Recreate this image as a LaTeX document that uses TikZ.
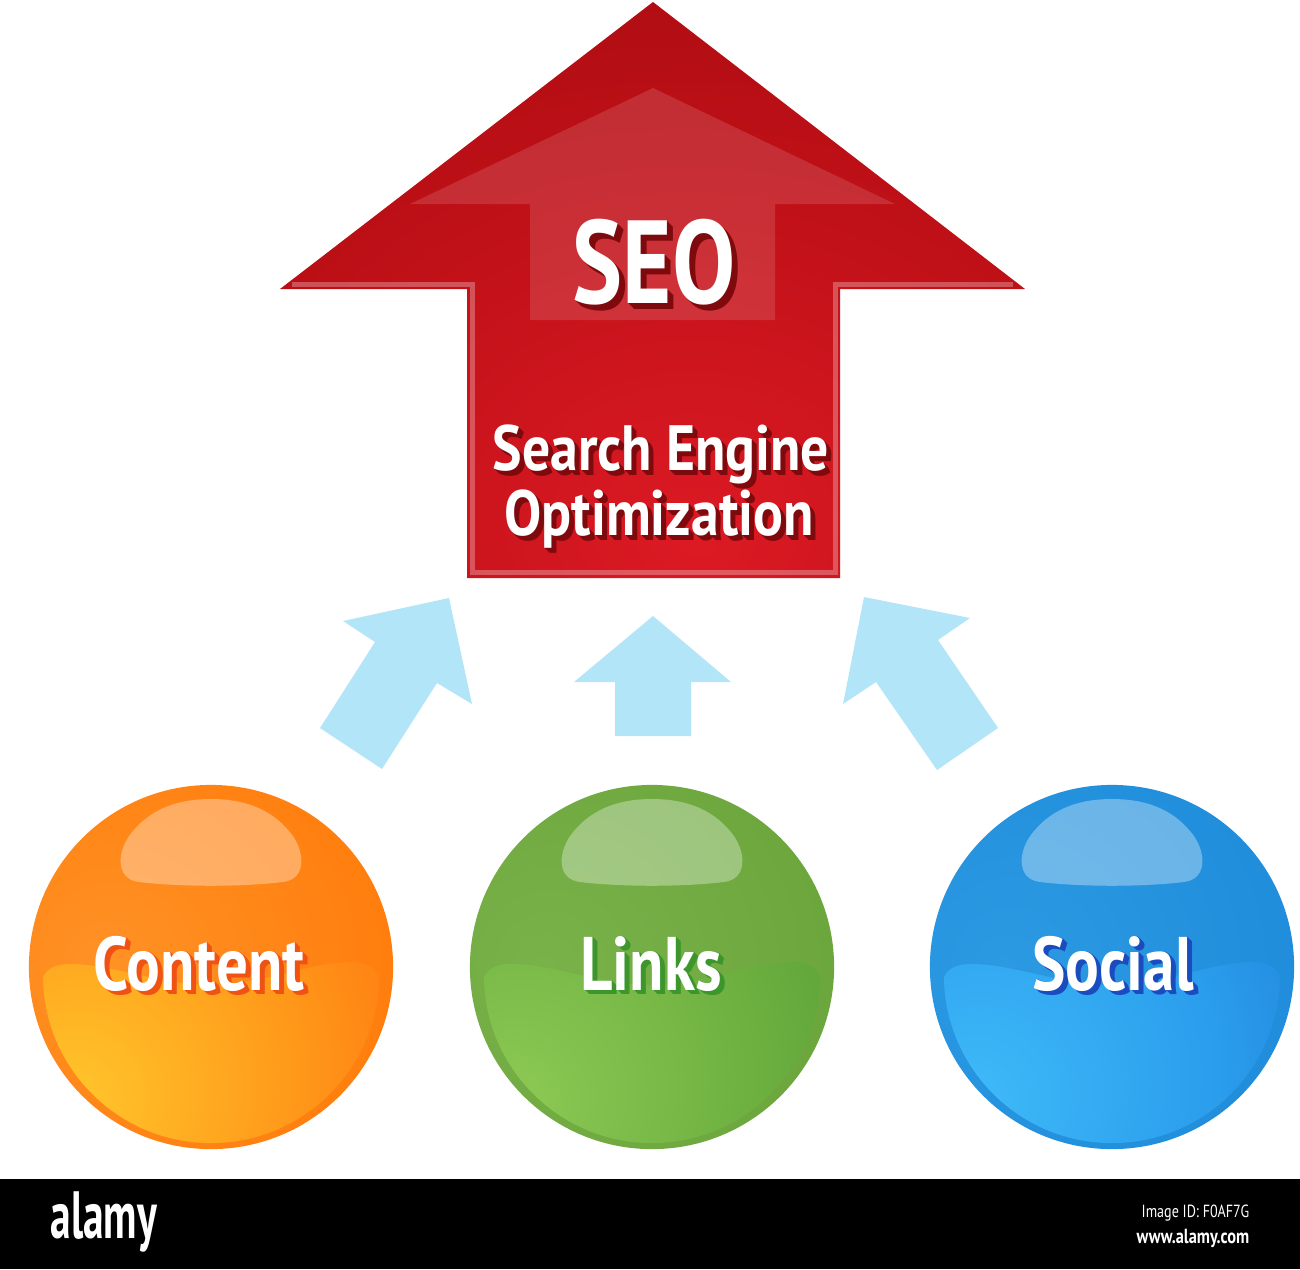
\documentclass[tikz,border=0pt]{standalone}
\usepackage{fontspec}
\setmainfont{PT Sans}
\newfontfamily\cond[FakeStretch=0.8]{PT Sans}
\newfontfamily\condsub[FakeStretch=0.87]{PT Sans}
\newfontfamily\condorb[FakeStretch=0.83]{PT Sans}
\newfontfamily\condlogo[FakeStretch=0.62]{PT Sans}
\definecolor{rc1}{HTML}{DC1A24}
\definecolor{rc2}{HTML}{BC0F16}
\definecolor{rc3}{HTML}{900A0E}
\definecolor{redsh}{HTML}{7E0A0E}
\definecolor{lblue}{HTML}{B3E5F8}
\definecolor{oB1}{HTML}{FF9226}
\definecolor{oB2}{HTML}{FF7300}
\definecolor{oY}{HTML}{FFC82C}
\definecolor{oM}{HTML}{FF9418}
\definecolor{oE}{HTML}{FF5208}
\definecolor{osh}{HTML}{F05214}
\definecolor{gB1}{HTML}{7AB24A}
\definecolor{gB2}{HTML}{64A036}
\definecolor{gY}{HTML}{8ECA55}
\definecolor{gM}{HTML}{6DB040}
\definecolor{gE}{HTML}{3C8C28}
\definecolor{gsh}{HTML}{3C962C}
\definecolor{bB1}{HTML}{2C9AE2}
\definecolor{bB2}{HTML}{1A86D8}
\definecolor{bY}{HTML}{40BBF9}
\definecolor{bM}{HTML}{2A9DEC}
\definecolor{bE}{HTML}{1B66C8}
\definecolor{bsh}{HTML}{1A4CC0}
\pgfdeclareradialshading{redglow}{\pgfpoint{3bp}{-22bp}}{color(0bp)=(rc1); color(30bp)=(rc2); color(68bp)=(rc3); color(120bp)=(rc3)}
\pgfdeclareradialshading{baseO}{\pgfpoint{-15bp}{0bp}}{color(0bp)=(oB1); color(55bp)=(oB2); color(120bp)=(oB2)}
\pgfdeclareradialshading{glowO}{\pgfpoint{-22bp}{-20bp}}{color(0bp)=(oY); color(32bp)=(oM); color(70bp)=(oE); color(120bp)=(oE)}
\pgfdeclareradialshading{baseG}{\pgfpoint{-15bp}{0bp}}{color(0bp)=(gB1); color(55bp)=(gB2); color(120bp)=(gB2)}
\pgfdeclareradialshading{glowG}{\pgfpoint{-22bp}{-20bp}}{color(0bp)=(gY); color(32bp)=(gM); color(70bp)=(gE); color(120bp)=(gE)}
\pgfdeclareradialshading{baseB}{\pgfpoint{-15bp}{0bp}}{color(0bp)=(bB1); color(55bp)=(bB2); color(120bp)=(bB2)}
\pgfdeclareradialshading{glowB}{\pgfpoint{-22bp}{-20bp}}{color(0bp)=(bY); color(32bp)=(bM); color(70bp)=(bE); color(120bp)=(bE)}
\newcommand{\draworb}[3]{%
  \begin{scope}[shift={#1}]
    \shade[shading=#2] (0,0) circle (1.82cm);
    \begin{scope}
      \clip (-172,40) .. controls (-174,5) and (-162,-3) .. (-140,-3)
        .. controls (-100,-3) and (-50,18) .. (0,18)
        .. controls (50,18) and (100,-5) .. (140,-5)
        .. controls (162,-5) and (174,5) .. (172,40)
        -- (172,200) -- (-172,200) -- cycle;
      \shade[shading=#3] (0,8) circle (1.68cm);
    \end{scope}
    \fill[white,opacity=0.33] (-72,-85) .. controls (-97,-88) and (-94,-118) .. (-78,-136)
      .. controls (-58,-160) and (-30,-168) .. (0,-168)
      .. controls (30,-168) and (58,-160) .. (78,-136)
      .. controls (94,-118) and (97,-88) .. (72,-85)
      .. controls (30,-80) and (-30,-80) .. (-72,-85) -- cycle;
  \end{scope}}
\tikzset{
  orblbl/.style={font=\condorb\bfseries\fontsize{21.6}{22}\selectfont, inner sep=0pt, anchor=base},
  seolbl/.style={font=\cond\bfseries\fontsize{33.6}{34}\selectfont, inner sep=0pt, anchor=base},
  sublbl/.style={font=\condsub\bfseries\fontsize{18.2}{18.5}\selectfont, inner sep=0pt, anchor=base},
  blockarrow/.style={fill=lblue}
}
\begin{document}
\begin{tikzpicture}[x=0.01cm,y=-0.01cm]
\useasboundingbox (0,0) rectangle (1300,1269);
\fill[white] (0,0) rectangle (1300,1269);

% big red arrow
\shade[shading=redglow] (653,2) -- (1025,289) -- (840,289) -- (840,578) -- (467,578) -- (467,289) -- (280,289) -- cycle;
\fill[white,opacity=0.13] (653,88) -- (895,204) -- (775,204) -- (775,320) -- (530,320) -- (530,204) -- (410,204) -- cycle;
\draw[white,opacity=0.28,line width=0.05cm] (292,284) -- (472,284) -- (472,572) -- (835,572) -- (835,284) -- (1013,284);

% SEO text
\foreach \d in {1,...,6}
  \node[seolbl,text=redsh,xshift=\d*0.01cm,yshift=-\d*0.01cm] (seosh\d) at (654,303) {SEO};
\node[seolbl,text=white] (seo) at (654,303) {SEO};
\foreach \d in {1,...,5}{
  \node[sublbl,text=redsh,xshift=\d*0.01cm,yshift=-\d*0.01cm] (l1sh\d) at (661,470) {Search Engine};
  \node[sublbl,text=redsh,xshift=\d*0.01cm,yshift=-\d*0.01cm] (l2sh\d) at (659,535) {Optimization};
}
\node[sublbl,text=white] (line1) at (661,470) {Search Engine};
\node[sublbl,text=white] (line2) at (659,535) {Optimization};

% light blue arrows
\fill[blockarrow] (449,598) -- (472,704) -- (437,683) -- (382,769) -- (320,728) -- (375,642) -- (343,621) -- cycle;
\fill[blockarrow] (653,616) -- (731,682) -- (691,682) -- (691,736) -- (615,736) -- (615,682) -- (574,682) -- cycle;
\fill[blockarrow] (864,597) -- (970,618) -- (938,640) -- (998,728) -- (937,770) -- (876,682) -- (843,704) -- cycle;

% orbs
\draworb{(211,967)}{baseO}{glowO}
\draworb{(652,967)}{baseG}{glowG}
\draworb{(1112,967)}{baseB}{glowB}

\foreach \d in {1,...,5}{
  \node[orblbl,text=osh,xshift=\d*0.01cm,yshift=-\d*0.008cm] (csh\d) at (199,990) {Content};
  \node[orblbl,text=gsh,xshift=\d*0.01cm,yshift=-\d*0.008cm] (lsh\d) at (651,990) {Links};
  \node[orblbl,text=bsh,xshift=\d*0.01cm,yshift=-\d*0.008cm] (ssh\d) at (1113,990) {Social};
}
\node[orblbl,text=white] (content) at (199,990) {Content};
\node[orblbl,text=white] (links) at (651,990) {Links};
\node[orblbl,text=white] (social) at (1113,990) {Social};

% banner
\fill[black] (0,1179) rectangle (1300,1269);
\node[font=\condlogo\bfseries\fontsize{19}{19}\selectfont, text=white, inner sep=0pt, anchor=base west] (alamy) at (50,1238) {alamy};
\node[font=\cond\fontsize{5}{5}\selectfont, text=white, inner sep=0pt, anchor=base east] (imgid) at (1250,1217) {Image ID: F0AF7G};
\node[font=\cond\bfseries\fontsize{5.8}{6}\selectfont, text=white, inner sep=0pt, anchor=base east] (www) at (1250,1243) {www.alamy.com};
\end{tikzpicture}
\end{document}
